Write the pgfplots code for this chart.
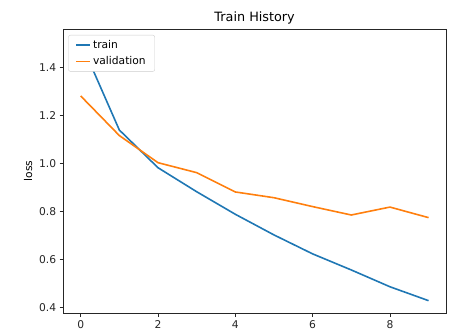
\documentclass[border=0pt]{standalone}
\usepackage{fontspec}
\setmainfont{DejaVu Sans}
\usepackage{pgfplots}
\pgfplotsset{compat=1.18}
\definecolor{mblue}{HTML}{1F77B4}
\definecolor{morange}{HTML}{FF7F0E}
\pgfplotsset{
  mpl legend/.style={legend image code/.code={\draw[mark repeat=2,mark phase=2,##1] plot coordinates {(0pt,0pt) (7pt,0pt) (14pt,0pt)};}},
}
\begin{document}
\begin{tikzpicture}[x=1pt,y=1pt]
\path[use as bounding box] (-63.3,-19.7) rectangle (410.7,313.3);
\begin{axis}[
 at={(0,0)}, anchor=south west,
 scale only axis, width=382.7pt, height=284.3pt,
 xmin=-0.45, xmax=9.45, ymin=0.3764, ymax=1.561,
 xtick={0,2,4,6,8}, ytick={0.4,0.6,0.8,1.0,1.2,1.4},
 yticklabel style={/pgf/number format/fixed, /pgf/number format/precision=1, /pgf/number format/fixed zerofill},
 /pgf/number format/assume math mode=true,
 tick align=outside, tick pos=left, major tick length=3.7pt,
 axis line style={line width=0.7pt, black!85},
 tick style={line width=0.7pt, black!85},
 ticklabel style={font=\fontsize{10.7}{12}\selectfont, text=black!85},
 title={Train History},
 title style={font=\fontsize{12.8}{14}\selectfont, yshift=-5pt},
 ylabel={loss},
 ylabel style={font=\fontsize{10.7}{12}\selectfont},
 mpl legend,
 legend style={at={(0.013,0.979)}, anchor=north west, draw=black!20, rounded corners=2pt,
   font=\fontsize{10.7}{12}\selectfont, legend cell align=left,
   inner xsep=7pt, inner ysep=3pt, row sep=3pt},
]
\addplot[color=mblue, line width=1.6pt] coordinates {
(0,1.507) (1,1.140) (2,0.983) (3,0.883) (4,0.789) (5,0.703) (6,0.624) (7,0.557) (8,0.487) (9,0.429)};
\addlegendentry{train}
\addplot[color=morange, line width=1.6pt] coordinates {
(0,1.282) (1,1.117) (2,1.004) (3,0.9625) (4,0.882) (5,0.858) (6,0.821) (7,0.786) (8,0.819) (9,0.775)};
\addlegendentry{validation}
\end{axis}
\end{tikzpicture}
\end{document}
